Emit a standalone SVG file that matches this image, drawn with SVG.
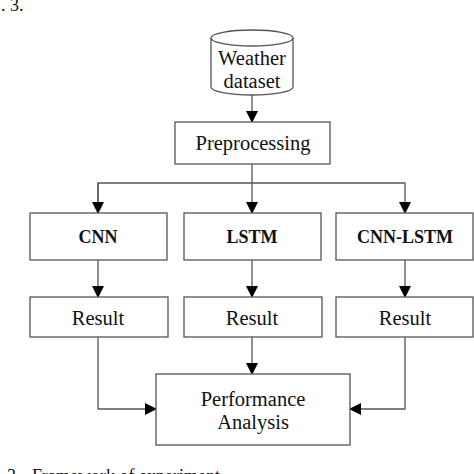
<svg xmlns="http://www.w3.org/2000/svg" width="474" height="474" viewBox="0 0 474 474">
<style>
.box{fill:#fff;stroke:#555;stroke-width:1.3}
.t{font-family:"Liberation Serif",serif;font-size:20.5px;fill:#111;text-anchor:middle}
.b{font-family:"Liberation Serif",serif;font-size:18px;font-weight:bold;fill:#111;text-anchor:middle}
.c{fill:none;stroke:#555;stroke-width:1.3}
.cap{font-family:"Liberation Serif",serif;font-size:18px;fill:#111}
</style>
<defs>
<marker id="ah" markerWidth="12" markerHeight="12" refX="11" refY="6" orient="auto" markerUnits="userSpaceOnUse">
<path d="M0,0 L12,6 L0,12 Z" fill="#000"/>
</marker>
</defs>
<rect width="474" height="474" fill="#fff"/>
<text class="cap" x="1" y="11">. 3.</text>
<g id="connectors">
<line class="c" x1="252" y1="95" x2="252" y2="122" marker-end="url(#ah)"/>
<line class="c" x1="252" y1="164" x2="252" y2="213" marker-end="url(#ah)"/>
<polyline class="c" points="98,213 98,183 405,183 405,213" marker-end="url(#ah)"/>
<line class="c" x1="98" y1="183" x2="98" y2="213" marker-end="url(#ah)"/>
<line class="c" x1="98" y1="260" x2="98" y2="297" marker-end="url(#ah)"/>
<line class="c" x1="252" y1="260" x2="252" y2="297" marker-end="url(#ah)"/>
<line class="c" x1="405" y1="260" x2="405" y2="297" marker-end="url(#ah)"/>
<line class="c" x1="252" y1="337" x2="252" y2="374" marker-end="url(#ah)"/>
<polyline class="c" points="98,337 98,409 156,409" marker-end="url(#ah)"/>
<polyline class="c" points="405,337 405,409 350,409" marker-end="url(#ah)"/>
</g>
<g id="weather">
<path class="box" d="M211,38 L211,87 A41,8 0 0 0 293,87 L293,38"/>
<ellipse class="box" cx="252" cy="38" rx="41" ry="8"/>
<text class="t" x="252" y="65">Weather</text>
<text class="t" x="252" y="88">dataset</text>
</g>
<g id="preprocessing">
<rect class="box" x="175" y="122" width="155" height="42"/>
<text class="t" x="253" y="150">Preprocessing</text>
</g>
<g id="cnn">
<rect class="box" x="30" y="213" width="137" height="47"/>
<text class="b" x="98" y="243">CNN</text>
</g>
<g id="lstm">
<rect class="box" x="184" y="213" width="137" height="47"/>
<text class="b" x="252" y="243">LSTM</text>
</g>
<g id="cnnlstm">
<rect class="box" x="336" y="213" width="137" height="47"/>
<text class="b" x="405" y="243">CNN-LSTM</text>
</g>
<g id="result1">
<rect class="box" x="30" y="297" width="138" height="40"/>
<text class="t" x="98" y="325">Result</text>
</g>
<g id="result2">
<rect class="box" x="184" y="297" width="138" height="40"/>
<text class="t" x="252" y="325">Result</text>
</g>
<g id="result3">
<rect class="box" x="336" y="297" width="137" height="40"/>
<text class="t" x="405" y="325">Result</text>
</g>
<g id="performance">
<rect class="box" x="156" y="374" width="194" height="71"/>
<text class="t" x="253" y="406">Performance</text>
<text class="t" x="253" y="429">Analysis</text>
</g>
<text class="cap" x="7" y="482">3</text>
<text class="cap" x="32" y="482">Framework of experiment</text>
</svg>
